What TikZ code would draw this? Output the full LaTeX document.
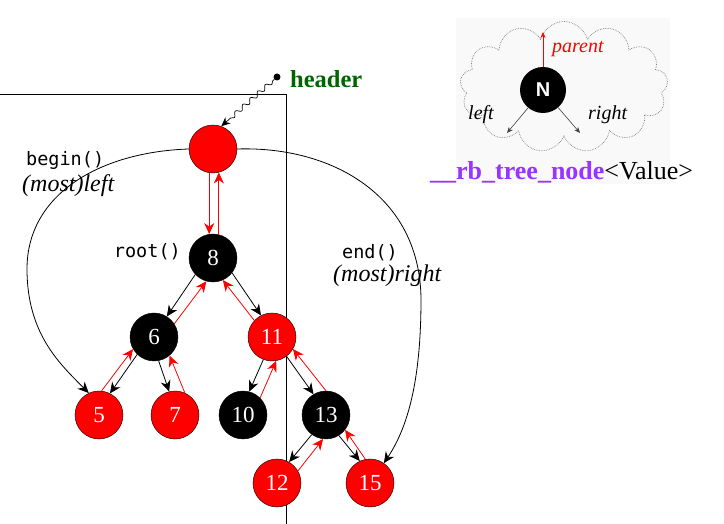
\documentclass[tikz,border=0pt]{standalone}
\usepackage{fontspec}
\setmainfont{Liberation Serif}
\setsansfont{Liberation Sans}
\setmonofont{DejaVu Sans Mono}
\usepackage{xcolor}
\usepackage{tikz}
\usetikzlibrary{arrows.meta,shapes.symbols,decorations.pathmorphing}
\definecolor{rbred}{RGB}{255,0,0}
\definecolor{hdrgreen}{RGB}{0,100,0}
\definecolor{tagpurple}{RGB}{153,51,255}

\begin{document}
\begin{tikzpicture}[x=1pt,y=1pt,
	rednode/.style={draw=black, circle, fill=rbred, minimum size=48pt, inner sep=0pt,
		text=white, font=\fontsize{23}{23}\selectfont},
	blacknode/.style={rednode, fill=black},
	childlink/.style={draw=black, line width=0.8pt, -{Stealth[length=11pt,width=10pt,inset=3.5pt]}},
	parentlink/.style={draw=rbred, line width=0.8pt, -{Stealth[length=11pt,width=10pt,inset=3.5pt]}},
	legendlink/.style={draw=black!75, line width=0.6pt, -{Stealth[length=6pt,width=5pt]}},
	codelabel/.style={inner sep=0pt, font=\fontsize{18.5}{20}\ttfamily},
	notelabel/.style={inner sep=0pt, font=\fontsize{24}{25}\itshape}]
					\useasboundingbox (0,0) rectangle (724,524);
					% the header frame
					\draw[line width=0.8pt] (0,430) -- (286,430) -- (286,0);
					% tree nodes
					\draw (213,375) node[rednode] (hdr) {};
					\draw (213,266) node[blacknode] (n8) {8};
					\draw (154,187) node[blacknode] (n6) {6};
					\draw (272,187) node[rednode] (n11) {11};
					\draw (99,109) node[rednode] (n5) {5};
					\draw (175,109) node[rednode] (n7) {7};
					\draw (243,109) node[blacknode] (n10) {10};
					\draw (326,109) node[blacknode] (n13) {13};
					\draw (277,41) node[rednode] (n12) {12};
					\draw (370,41) node[rednode] (n15) {15};
					% header pointer
					\draw (277,447) node[circle, fill=black, minimum size=7pt, inner sep=0pt] (hdot) {};
					\draw (290,436) node[anchor=base west, inner sep=0pt, text=hdrgreen,
					font=\fontsize{24.5}{26}\bfseries] (hdrlbl) {header};
					\draw[decorate, decoration={snake, amplitude=2.2pt, segment length=10pt,
					pre length=2pt, post length=9pt}, line width=0.7pt,
					-{Stealth[length=9pt,width=8pt]}] (hdot) -- (hdr.70);
					% labels
					\draw (26,358) node[codelabel, anchor=base west] (beginlbl) {begin()};
					\draw (22,332) node[notelabel, anchor=base west] (leftmost) {(most)left};
					\draw (181,266) node[codelabel, anchor=base east] (rootlbl) {root()};
					\draw (342,265) node[codelabel, anchor=base west] (endlbl) {end()};
					\draw (333,242) node[notelabel, anchor=base west] (rightmost) {(most)right};
					% leftmost and rightmost
					\draw[childlink] (hdr.west) .. controls (100,372) and (27,330) .. (27,255)
					.. controls (27,190) and (60,160) .. (n5.115);
					\draw[childlink] (hdr.east) .. controls (330,378) and (420,330) .. (421,225)
					.. controls (421,150) and (410,100) .. (n15.55);
					% header <-> root
					\draw[parentlink] (hdr.261) -- (n8.99);
					\draw[parentlink] (n8.76) -- (hdr.284);
					% children and parents
					\draw[childlink] (n8.223) -- (n6.58);
					\draw[parentlink] (n6.33) -- (n8.254);
					\draw[childlink] (n8.322) -- (n11.117);
					\draw[parentlink] (n11.137) -- (n8.294);
					\draw[childlink] (n6.226) -- (n5.63);
					\draw[parentlink] (n5.84) -- (n6.210);
					\draw[childlink] (n6.281) -- (n7.104);
					\draw[parentlink] (n7.66) -- (n6.310);
					\draw[childlink] (n11.249) -- (n10.75);
					\draw[parentlink] (n10.45) -- (n11.280);
					\draw[childlink] (n11.307) -- (n13.121);
					\draw[parentlink] (n13.90) -- (n11.330);
					\draw[childlink] (n13.234) -- (n12.60);
					\draw[parentlink] (n12.30) -- (n13.263);
					\draw[childlink] (n13.302) -- (n15.115);
					\draw[parentlink] (n15.101) -- (n13.322);
					% legend
					\fill[gray!5] (456,340) rectangle (670,506);
					\draw (564,437) node[cloud, cloud puffs=13, cloud ignores aspect, minimum width=208pt,
					minimum height=131pt, inner sep=0pt, draw=gray, densely dotted, line width=0.7pt] (bubble) {};
					\draw (543,434) node[circle, fill=black, minimum size=46pt, inner sep=0pt, text=white,
					font=\fontsize{20}{20}\sffamily\bfseries] (nodeN) {N};
					\coordinate (ptop) at (543,492);
					\coordinate (pleft) at (507,391);
					\coordinate (pright) at (580,391);
					\draw[legendlink, draw=rbred] (nodeN) -- (ptop);
					\draw[legendlink] (nodeN) -- (pleft);
					\draw[legendlink] (nodeN) -- (pright);
					\draw (552,471) node[anchor=base west, inner sep=0pt, text=rbred,
					font=\fontsize{20}{20}\itshape] (parentlbl) {parent};
					\draw (468,404) node[anchor=base west, inner sep=0pt,
					font=\fontsize{20}{20}\itshape] (leftlbl) {left};
					\draw (588,404) node[anchor=base west, inner sep=0pt,
					font=\fontsize{20}{20}\itshape] (rightlbl) {right};
					\draw (430,344) node[anchor=base west, inner sep=0pt, font=\fontsize{26}{28}\selectfont]
					(tagline) {\textcolor{tagpurple}{\bfseries\_\_rb\_tree\_node}<Value>};
				\end{tikzpicture}
\end{document}
